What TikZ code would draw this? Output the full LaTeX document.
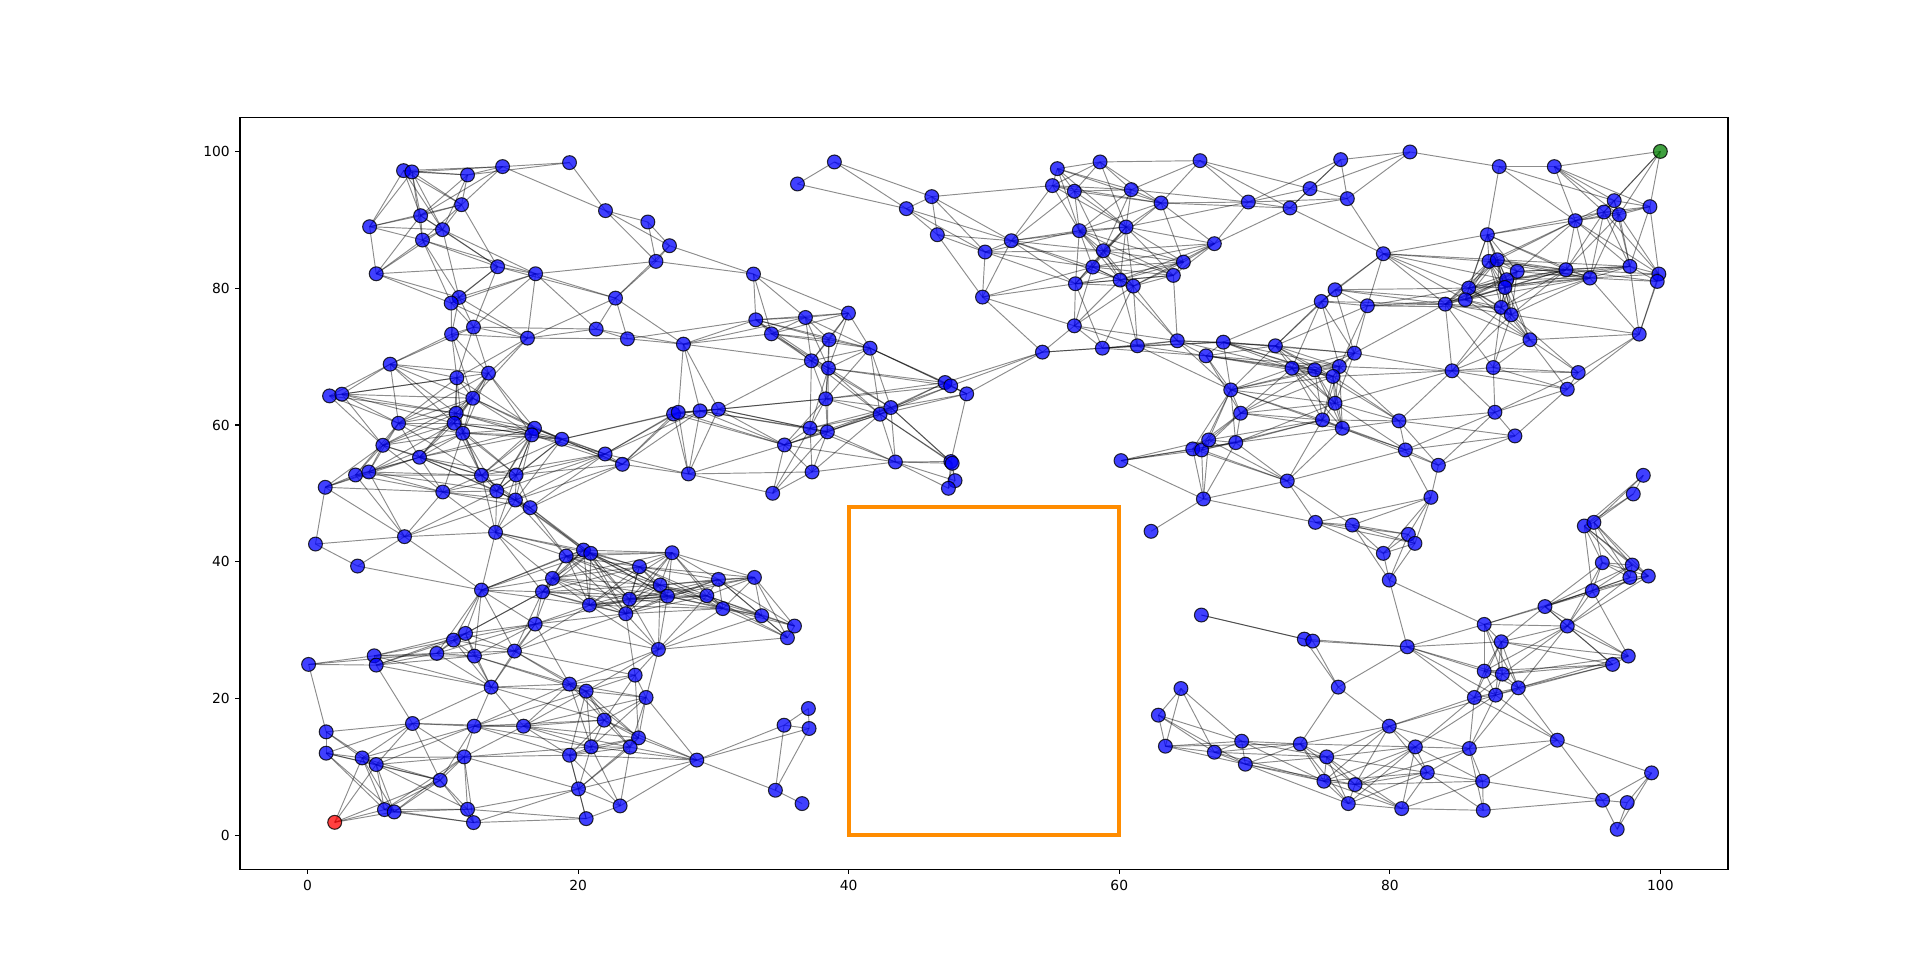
\documentclass[tikz,border=0pt]{standalone}
\usepackage{fontspec}
\setmainfont{DejaVu Sans}
\usetikzlibrary{backgrounds}

\definecolor{ptblue}{RGB}{0,0,255}
\definecolor{boxorange}{RGB}{255,140,0}

\newcount\cnta \newcount\cntb \newcount\nnodes
\newcount\cntdx \newcount\cntdy

%% guarda la muestra \i en centesimas
\def\storept#1#2#3{%
  \expandafter\xdef\csname px#1\endcsname{\the\numexpr\dimexpr#2pt\relax/655\relax}%
  \expandafter\xdef\csname py#1\endcsname{\the\numexpr\dimexpr#3pt\relax/655\relax}}

%% une cada par de muestras a distancia <= 10
\def\drawlinks{%
  \cnta=1
  \loop
    {\cntb=\cnta \advance\cntb by 1
     \loop\ifnum\cntb<\numexpr\nnodes+1\relax
       \cntdx=\numexpr\csname px\the\cnta\endcsname-\csname px\the\cntb\endcsname\relax
       \cntdy=\numexpr\csname py\the\cnta\endcsname-\csname py\the\cntb\endcsname\relax
       \ifnum\numexpr\cntdx*\cntdx+\cntdy*\cntdy\relax<1000001
         \draw[link] (n\the\cnta.center) -- (n\the\cntb.center);
       \fi
       \advance\cntb by 1
     \repeat}%
  \ifnum\cnta<\nnodes \advance\cnta by 1 \repeat}

\begin{document}
\begin{tikzpicture}[
  font=\fontsize{3.94}{4.7}\selectfont,
  pt/.style={circle, draw=black, draw opacity=0.8, fill=ptblue,
             fill opacity=0.75, line width=0.3pt, minimum size=0.139cm, inner sep=0pt},
  startpt/.style={pt, fill=red},
  goalpt/.style={pt, fill=green!50!black},
  link/.style={black, opacity=0.45, line width=0.27pt},
  obstacle/.style={draw=boxorange, line width=1.18pt},
  frame/.style={line width=0.315pt},
  ticklab/.style={inner sep=1.38pt}
]

\useasboundingbox (0,0) rectangle (19.2,9.77);

\begin{scope}[x=0.135273cm, y=0.06839cm, shift={(3.0764cm,1.4166cm)}]

%% ——— Inicio y meta ———
\node[startpt] (n1) at (2.0,1.9) {};
\node[goalpt]  (n2) at (100,100) {};
\storept{1}{2.0}{1.9}
\storept{2}{100}{100}

%% ——— Muestras ———
\foreach \x/\y [count=\i from 3] in {
  7.09/97.19, 7.71/97.00, 11.82/96.56, 14.41/97.78, 19.36/98.36, 11.38/92.21,
  22.02/91.34, 25.15/89.68, 4.58/88.99, 8.35/90.60, 9.97/88.56, 8.49/87.04,
  5.07/82.11, 14.04/83.14, 16.85/82.11, 11.20/78.65, 10.61/77.82, 22.76/78.55,
  25.75/83.92, 10.64/73.28, 12.26/74.31, 16.25/72.70, 21.33/74.02, 23.64/72.60,
  6.10/68.89, 11.03/66.90, 13.37/67.58,
  38.94/98.46, 36.21/95.24, 46.14/93.39, 44.26/91.63, 46.55/87.82, 50.08/85.29,
  49.89/78.70, 26.75/86.21, 32.96/82.07, 33.13/75.38, 36.80/75.72, 39.98/76.36,
  34.29/73.33, 38.55/72.46, 41.58/71.23, 37.24/69.38, 38.50/68.31, 27.78/71.82,
  55.42/97.48, 58.58/98.46, 65.97/98.65, 55.06/95.00, 56.68/94.17, 60.89/94.41,
  63.09/92.46, 69.54/92.60, 72.62/91.73, 74.10/94.56, 52.02/86.94, 57.05/88.41,
  60.50/88.95, 58.82/85.48, 58.04/83.09, 67.03/86.51, 64.74/83.82, 64.00/81.87,
  56.76/80.65, 60.06/81.19, 61.04/80.31, 56.68/74.50, 54.32/70.65, 58.75/71.23,
  61.34/71.58, 64.29/72.31, 67.69/72.11, 66.41/70.11, 71.54/71.58, 74.93/78.06,
  72.77/68.31, 74.45/68.06,
  76.37/98.80, 81.49/99.92, 88.09/97.78, 92.16/97.78, 76.86/93.09, 96.59/92.80,
  95.83/91.14, 96.96/90.75, 99.23/91.92, 93.71/89.87, 87.21/87.82, 79.52/85.04,
  87.33/83.92, 87.95/84.16, 89.42/82.46, 88.64/81.24, 88.51/80.11, 93.02/82.70,
  94.79/81.48, 97.75/83.19, 99.89/82.07, 99.77/80.99, 85.83/80.02, 85.58/78.31,
  88.24/77.19, 88.98/76.11, 84.10/77.67, 78.34/77.43, 75.95/79.77, 90.36/72.46,
  98.44/73.28, 77.38/70.50, 76.27/68.55, 75.80/67.10, 84.60/67.92, 87.65/68.40,
  93.93/67.67,
  1.62/64.25, 2.53/64.50, 12.21/63.91, 10.98/61.72, 10.83/60.25, 11.47/58.79,
  6.72/60.25, 5.56/57.03, 8.27/55.28, 3.54/52.69, 4.52/53.13, 1.30/50.89,
  9.99/50.20, 12.85/52.64, 13.98/50.35, 15.41/52.69, 15.36/49.03, 16.45/47.91,
  16.77/59.52, 16.57/58.55, 18.79/57.91, 21.99/55.76, 23.27/54.25, 0.58/42.59,
  3.69/39.37, 7.16/43.67, 13.89/44.30, 12.85/35.86, 19.11/40.84, 20.39/41.71,
  20.93/41.23, 24.53/39.27, 18.10/37.57, 17.36/35.61, 20.83/33.66, 23.79/34.54,
  23.52/32.40,
  27.05/61.60, 27.40/61.85, 29.01/62.06, 30.37/62.30, 28.15/52.84, 35.25/57.08,
  34.38/50.01, 37.29/53.13, 37.14/59.52, 38.42/58.99, 38.30/63.82, 42.32/61.57,
  43.11/62.55, 43.45/54.59, 47.12/66.21, 47.54/65.72, 48.72/64.55, 47.55/54.65,
  47.65/54.40, 47.86/51.86, 47.37/50.74, 26.94/41.32, 26.06/36.59, 26.60/34.98,
  30.37/37.42, 33.03/37.71, 29.51/35.03, 30.69/33.15,
  60.13/54.79, 62.35/44.45, 66.22/49.18, 65.43/56.50, 66.09/56.35, 66.61/57.81,
  68.61/57.42, 68.24/65.13, 68.97/61.72, 72.42/51.81, 74.50/45.76, 75.02/60.74,
  75.95/63.18, 76.49/59.52, 80.68/60.60, 81.15/56.35, 83.59/54.11, 87.77/61.86,
  89.25/58.40, 93.12/65.23, 83.04/49.42, 77.23/45.37, 81.37/44.01, 81.86/42.69,
  79.52/41.23, 79.96/37.32, 98.74/52.64, 98.00/49.91, 94.38/45.23, 95.09/45.76,
  95.71/39.86, 97.92/39.52, 97.75/37.71, 99.11/37.91, 94.97/35.76, 91.47/33.45,
  0.07/24.99, 4.92/26.25, 5.07/24.89, 9.55/26.60, 10.78/28.55, 11.67/29.52,
  12.33/26.21, 16.82/30.89, 15.29/26.94, 13.57/21.67, 19.36/22.11, 20.59/21.08,
  24.21/23.42, 25.02/20.16, 7.75/16.35, 12.31/15.96, 15.96/15.96, 1.37/15.13,
  1.37/12.01, 4.03/11.32, 5.07/10.35, 11.57/11.47, 9.80/8.05, 21.92/16.84,
  24.46/14.25, 23.84/12.89, 19.36/11.71, 20.96/12.93, 20.02/6.79, 23.10/4.30,
  20.59/2.44, 5.68/3.76, 6.40/3.42, 11.82/3.81, 12.26/1.86,
  33.57/32.11, 35.99/30.60, 35.47/28.89, 25.93/27.18, 28.77/11.00, 35.22/16.10,
  37.02/18.54, 37.07/15.62, 34.58/6.59, 36.55/4.64,
  66.07/32.21, 73.68/28.69, 74.30/28.40, 64.56/21.47, 62.89/17.57, 63.41/13.03,
  67.03/12.15, 69.05/13.76, 69.32/10.40, 73.38/13.37, 75.33/11.47, 75.13/7.91,
  81.29/27.57, 76.19/21.67, 86.98/30.84, 93.12/30.60, 88.24/28.30, 97.63/26.21,
  96.47/24.99, 86.98/24.01, 88.32/23.57, 89.50/21.57, 86.25/20.16, 87.82/20.50,
  92.38/13.91, 79.96/15.96, 81.89/12.93, 85.88/12.69, 82.77/9.18, 86.86/7.91,
  86.91/3.66, 80.88/3.91, 76.93/4.64, 77.43/7.42, 99.35/9.13, 95.73/5.13,
  97.55/4.79, 96.81/0.88}
{
  \node[pt] (n\i) at (\x,\y) {};
  \storept{\i}{\x}{\y}
  \global\nnodes=\i
}

%% ——— Aristas (radio 10) ———
\begin{scope}[on background layer]
  \drawlinks
\end{scope}

%% ——— Obstaculo ———
\draw[obstacle] (40,0) rectangle (60,48);

%% ——— Ejes ———
\draw[frame] (-5,-5) rectangle (105,105);
\foreach \v in {0,20,...,100} {
  \draw[frame] (\v,-5) -- ++(0,-1.38pt) node[ticklab, anchor=north] (xt\v) {\v};
  \draw[frame] (-5,\v) -- ++(-1.38pt,0) node[ticklab, anchor=east] (yt\v) {\v};
}

\end{scope}
\end{tikzpicture}
\end{document}
